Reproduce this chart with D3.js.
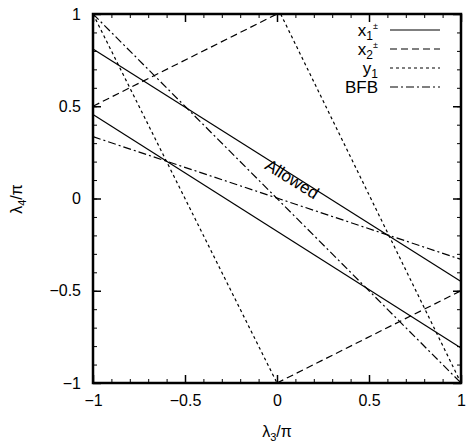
<!DOCTYPE html>
<html lang="en">
<head>
<meta charset="utf-8">
<script src="https://d3js.org/d3.v7.min.js"></script>
<style>
body { margin: 0; background: #fff; }
text { font-family: "Liberation Sans", Arial, sans-serif; }
</style>
</head>
<body>
<div id="chart"></div>
<script>
// line segments (lambda3/pi, lambda4/pi)
var x1Lines = [[[-1, 0.81], [1, -0.45]], [[-1, 0.455], [1, -0.81]]]
var x2Lines = [[[-1, 0.5], [0, 1]], [[0, -1], [1, -0.5]]]
var y1Lines = [[[-1, 1], [0, -1]], [[0.02, 1], [1, -1]]]
var bfbLines = [[[-1, 1], [1, -1]], [[-1, 0.335], [1, -0.33]]]
var tickVals = [-1, -0.5, 0, 0.5, 1]
var legendNames = ["x1±", "x2±", "y1", "BFB"]

var w = 474, h = 447
var svg = d3.select("#chart").append("svg").attr("width", w).attr("height", h)

var xScale = d3.scaleLinear().domain([-1, 1]).range([93, 461])
var yScale = d3.scaleLinear().domain([-1, 1]).range([383, 14])
var line = d3.line().x(function(d){ return xScale(d[0]) }).y(function(d){ return yScale(d[1]) })

var series = [
	{lines: x1Lines, dash: null},
	{lines: x2Lines, dash: "7,4"},
	{lines: y1Lines, dash: "3,3"},
	{lines: bfbLines, dash: "8,3,2,3"}
]

series.forEach(function(s){
	svg.selectAll(null).data(s.lines).enter().append("path")
		.attr("d", line)
		.attr("fill", "none").attr("stroke", "#000").attr("stroke-width", 1.2)
		.attr("stroke-dasharray", s.dash)
})

// axes with inward ticks, minor ticks every 0.1
var minor = d3.range(-10, 11).map(function(i){ return i / 10 })
function addAxis(axisFn, scale, transform, labels) {
	svg.append("g").attr("transform", transform)
		.call(axisFn(scale).tickValues(minor).tickSize(-4).tickFormat(""))
		.call(function(g){ g.select(".domain").remove() })
	var g = svg.append("g").attr("transform", transform)
		.call(axisFn(scale).tickValues(tickVals).tickSize(-8).tickPadding(12)
			.tickFormat(labels ? d3.format("") : ""))
	g.select(".domain").remove()
	g.selectAll("line").attr("stroke-width", 1.5)
	g.selectAll("text").attr("font-size", 16).attr("font-family", "Liberation Sans, Arial, sans-serif")
}
addAxis(d3.axisBottom, xScale, "translate(0,383)", true)
addAxis(d3.axisTop, xScale, "translate(0,14)", false)
addAxis(d3.axisLeft, yScale, "translate(93,0)", true)
addAxis(d3.axisRight, yScale, "translate(461,0)", false)

svg.append("rect").attr("x", 93).attr("y", 14).attr("width", 368).attr("height", 369)
	.attr("fill", "none").attr("stroke", "#000").attr("stroke-width", 2.5)

// legend
var leg = svg.append("g")
series.forEach(function(s, i){
	var y = 30 + i * 19
	leg.append("line").attr("x1", 390).attr("x2", 440).attr("y1", y).attr("y2", y)
		.attr("stroke", "#000").attr("stroke-width", 1.2).attr("stroke-dasharray", s.dash)
	var t = leg.append("text").attr("x", 378).attr("y", y + 6).attr("text-anchor", "end").attr("font-size", 17)
	var name = legendNames[i]
	if (name === "BFB") { t.text(name); return }
	t.append("tspan").text(name[0])
	t.append("tspan").attr("font-size", 12).attr("dy", 4).text(name[1])
	if (name.length > 2) t.append("tspan").attr("font-size", 9).attr("dy", -11).text(name[2])
})

svg.append("text").attr("transform", "translate(289,184) rotate(32)")
	.attr("text-anchor", "middle").attr("font-size", 17).text("Allowed")

var xl = svg.append("text").attr("x", 277).attr("y", 437).attr("text-anchor", "middle").attr("font-size", 16)
xl.append("tspan").text("λ")
xl.append("tspan").attr("font-size", 11).attr("dy", 4).text("3")
xl.append("tspan").attr("dy", -4).text("/π")

var yl = svg.append("text").attr("transform", "translate(22,199) rotate(-90)").attr("text-anchor", "middle").attr("font-size", 16)
yl.append("tspan").text("λ")
yl.append("tspan").attr("font-size", 11).attr("dy", 4).text("4")
yl.append("tspan").attr("dy", -4).text("/π")
</script>
</body>
</html>
